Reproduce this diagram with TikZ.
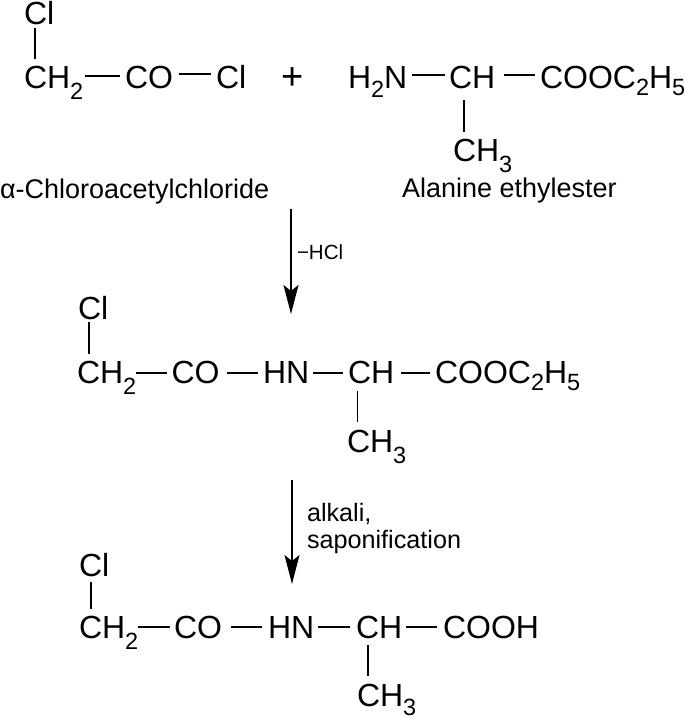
\documentclass[tikz,border=0pt]{standalone}
\usepackage{fontspec}
\setmainfont{Liberation Sans}
\usetikzlibrary{arrows.meta}
\tikzset{
  chem/.style={inner sep=0pt,outer sep=0pt,anchor=base west,font=\fontsize{32}{36}\selectfont},
  lab/.style={inner sep=0pt,outer sep=0pt,anchor=base west,font=\fontsize{27}{30}\selectfont},
  small/.style={inner sep=0pt,outer sep=0pt,anchor=base west,font=\fontsize{25.2}{28}\selectfont},
  tiny/.style={inner sep=0pt,outer sep=0pt,anchor=base west,font=\fontsize{20.5}{24}\selectfont},
  plussign/.style={inner sep=0pt,outer sep=0pt,anchor=base,font=\fontsize{38}{40}\selectfont},
  bond/.style={draw=black,line width=1.7pt},
  rxn/.style={draw=black,line width=2pt,-{Stealth[length=29pt,width=15pt,inset=6pt]}}
}
\newcommand{\subs}[2]{\raisebox{-#1pt}{\fontsize{23.5}{24}\selectfont #2}}
\begin{document}
\begin{tikzpicture}[x=1pt,y=-1pt]
\useasboundingbox (0,0) rectangle (685,718);
% row 1
\node[chem] (a1) at (24,24) {Cl};
\node[chem] (a2) at (24,88) {CH\subs{11}{2}};
\node[chem] (a3) at (125,88) {CO};
\node[chem] (a4) at (216,88) {Cl};
\node[plussign] (plus) at (292.5,89) {+};
\node[chem] (b1) at (348,88) {H\subs{9}{2}N};
\node[chem] (b2) at (449,88) {CH};
\node[chem] (b3) at (540,88) {COOC\subs{7.5}{2}H\subs{7.5}{5}};
\node[chem] (b4) at (453,161) {CH\subs{11}{3}};
\draw[bond] ([shift={(10.7,4)}]a1.south west) -- ([shift={(10.7,-7)}]a2.north west);
\draw[bond] (a2.east |- 0,76) ++(2,0) -- ([xshift=-5pt]a3.west |- 0,76);
\draw[bond] (a3.east |- 0,74) ++(6,0) -- ([xshift=-5pt]a4.west |- 0,74);
\draw[bond] (b1.east |- 0,75) ++(5,0) -- ([xshift=-4pt]b2.west |- 0,75);
\draw[bond] (b2.east |- 0,75) ++(9,0) -- ([xshift=-5pt]b3.west |- 0,75);
\draw[bond] ([shift={(15,12)}]b2.south west) -- ([shift={(11,-6.5)}]b4.north west);
\node[lab] (l1) at (0,198) {α-Chloroacetylchloride};
\node[lab] (l2) at (402,197) {Alanine ethylester};
% arrow 1
\coordinate (r1s) at (291,209);
\coordinate (r1e) at (291,314);
\draw[rxn] (r1s) -- (r1e);
\node[tiny] (h) at (297,259) {−HCl};
% row 2
\node[chem] (c1) at (78,319) {Cl};
\node[chem] (c2) at (77,383) {CH\subs{11.5}{2}};
\node[chem] (c3) at (171.5,383) {CO};
\node[chem] (c4) at (263,383) {HN};
\node[chem] (c5) at (348,383) {CH};
\node[chem] (c6) at (435,383) {COOC\subs{7}{2}H\subs{7}{5}};
\node[chem] (c7) at (347,452) {CH\subs{11}{3}};
\draw[bond] ([shift={(11,3)}]c1.south west) -- ([shift={(12,-6.5)}]c2.north west);
\draw[bond] (c2.east |- 0,373) -- ([xshift=-4.5pt]c3.west |- 0,373);
\draw[bond] (c3.east |- 0,373) ++(7.5,0) -- ([xshift=-5pt]c4.west |- 0,373);
\draw[bond] (c4.east |- 0,373) ++(4,0) -- ([xshift=-5pt]c5.west |- 0,373);
\draw[bond] (c5.east |- 0,373) ++(7,0) -- ([xshift=-5pt]c6.west |- 0,373);
\draw[bond] ([shift={(9.5,8)}]c5.south west) -- ([shift={(10.5,-7.5)}]c7.north west);
% arrow 2
\coordinate (r2s) at (292,480);
\coordinate (r2e) at (292,584);
\draw[rxn] (r2s) -- (r2e);
\node[small] (s1) at (307,521) {alkali,};
\node[small] (s2) at (307,548) {saponification};
% row 3
\node[chem] (d1) at (79,576) {Cl};
\node[chem] (d2) at (79,638) {CH\subs{11.5}{2}};
\node[chem] (d3) at (174,638) {CO};
\node[chem] (d4) at (268,638) {HN};
\node[chem] (d5) at (356,638) {CH};
\node[chem] (d6) at (443,638) {COOH};
\node[chem] (d7) at (357,706) {CH\subs{9}{3}};
\draw[bond] ([shift={(12,6)}]d1.south west) -- ([shift={(12,-6.5)}]d2.north west);
\draw[bond] (d2.east |- 0,627) -- ([xshift=-4pt]d3.west |- 0,627);
\draw[bond] (d3.east |- 0,627) ++(9,0) -- ([xshift=-6pt]d4.west |- 0,627);
\draw[bond] (d4.east |- 0,627) ++(4,0) -- ([xshift=-6pt]d5.west |- 0,627);
\draw[bond] (d5.east |- 0,627) ++(4,0) -- ([xshift=-6pt]d6.west |- 0,627);
\draw[bond] ([shift={(12,7)}]d5.south west) -- ([shift={(11,-7.5)}]d7.north west);
\end{tikzpicture}
\end{document}
